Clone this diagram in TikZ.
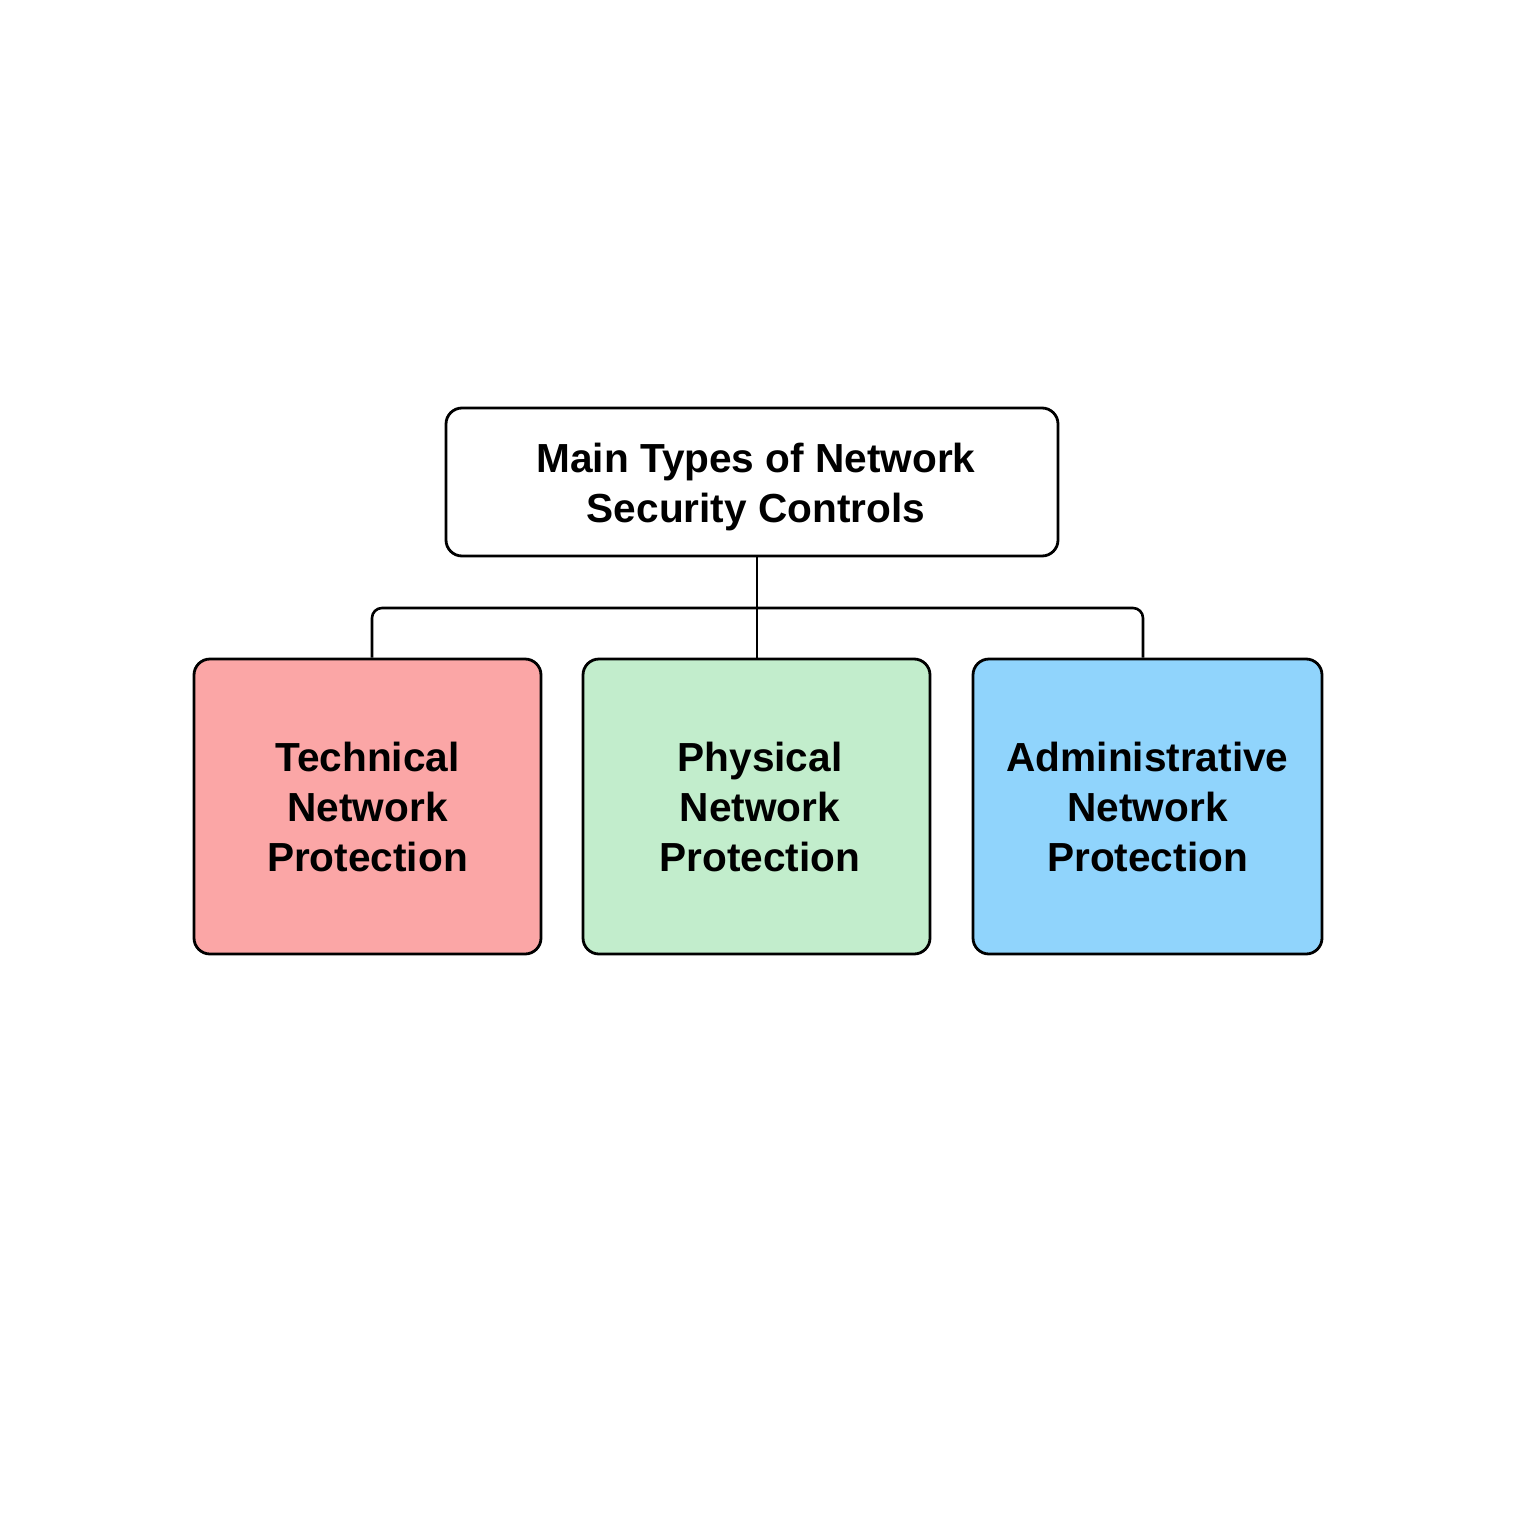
\documentclass[tikz,border=0pt]{standalone}
\usepackage{fontspec}
\setmainfont{Liberation Sans}
\begin{document}
\begin{tikzpicture}[x=0.5pt,y=-0.5pt,
  box/.style={draw=black,line width=1.4pt,rounded corners=8pt,align=center,
    font=\fontsize{20.3}{25}\selectfont\bfseries,inner sep=0pt},
  lbl/.style={align=center,font=\fontsize{20.3}{25}\selectfont\bfseries,inner sep=0pt},
  conn/.style={draw=black,line width=1.3pt,rounded corners=5pt}]
\useasboundingbox (0,0) rectangle (1536,1536);
\definecolor{cred}{HTML}{FBA6A6}
\definecolor{cgreen}{HTML}{C2EDCC}
\definecolor{cblue}{HTML}{90D4FC}
\node[box,fill=white,minimum width=306pt,minimum height=74pt] (top) at (752,482) {};
\node[lbl] (toptext) at (756,487) {Main Types of Network\\Security Controls};
\node[box,fill=cred,minimum width=173.5pt,minimum height=147.5pt] (tech) at (367.5,806.5)
  {Technical\\Network\\Protection};
\node[box,fill=cgreen,minimum width=173.5pt,minimum height=147.5pt] (phys) at (756.5,806.5) {};
\node[lbl] (phystext) at (760,807) {Physical\\Network\\Protection};
\node[box,fill=cblue,minimum width=174.5pt,minimum height=147.5pt] (admin) at (1147.5,806.5)
  {Administrative\\Network\\Protection};
\coordinate (j) at (757,608);
\draw[conn] (top.south -| j) -- (phys.north -| j);
\draw[conn] (tech.north -| 372,0) |- (j) -| (admin.north -| 1143,0);
\end{tikzpicture}
\end{document}
